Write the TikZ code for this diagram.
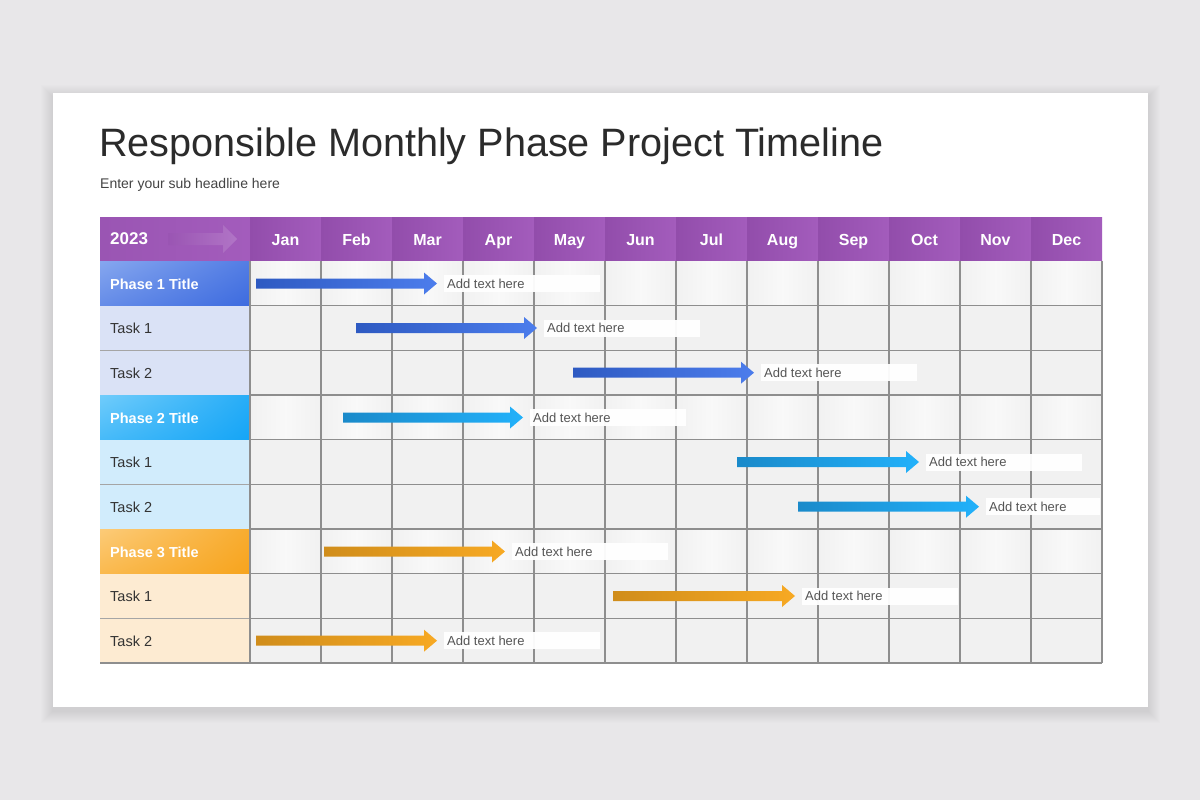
\documentclass[tikz,border=0pt]{standalone}
\usepackage{fontspec}
\setmainfont{Liberation Sans}
\usetikzlibrary{shadings}
\definecolor{bgc}{HTML}{E8E7E9}
\definecolor{titlec}{HTML}{2B2B2B}
\definecolor{subc}{HTML}{444444}
\definecolor{hdA}{HTML}{924DAB}
\definecolor{hdB}{HTML}{A35CBC}
\definecolor{hdC}{HTML}{9A55B3}
\definecolor{gridc}{HTML}{8E8E8E}
\definecolor{cellc}{HTML}{F1F1F1}
\definecolor{pAa}{HTML}{86A7EF}
\definecolor{pAb}{HTML}{3D6BDF}
\definecolor{pAt}{HTML}{DAE2F6}
\definecolor{pBa}{HTML}{70CCFB}
\definecolor{pBb}{HTML}{15A5F6}
\definecolor{pBt}{HTML}{D1ECFC}
\definecolor{pCa}{HTML}{FCCB78}
\definecolor{pCb}{HTML}{F7A41D}
\definecolor{pCt}{HTML}{FDEBD2}
\definecolor{arAa}{HTML}{2E5AC2}
\definecolor{arAb}{HTML}{4C7DEC}
\definecolor{arBa}{HTML}{1A8ACA}
\definecolor{arBb}{HTML}{22B1FA}
\definecolor{arCa}{HTML}{D08D1B}
\definecolor{arCb}{HTML}{F7A923}
\definecolor{lblc}{HTML}{555555}
\definecolor{taskc}{HTML}{333333}
\tikzset{
  lbl/.style={text=lblc, font=\fontsize{13}{15}\selectfont, inner sep=0pt},
  month/.style={text=white, font=\bfseries\fontsize{16}{18}\selectfont, inner sep=0pt, anchor=base},
  phasetxt/.style={text=white, font=\bfseries\fontsize{14.5}{17}\selectfont, anchor=west, inner sep=0pt},
  tasktxt/.style={text=taskc, font=\fontsize{14.5}{17}\selectfont, anchor=west, inner sep=0pt},
  gridline/.style={draw=gridc, line width=1.4pt},
}
\newcommand{\garrow}[5]{%
  \shade[left color=#4,right color=#5] (#2,#1-5) -- (#3-13,#1-5) -- (#3-13,#1-11) -- (#3,#1) -- (#3-13,#1+11) -- (#3-13,#1+5) -- (#2,#1+5) -- cycle;}
\newcommand{\glabel}[3]{%
  \fill[white, opacity=0.95] (#3+7,#2-8.5) rectangle (#3+163,#2+8.5);
  \node[lbl, anchor=west] (#1) at (#3+10,#2) {Add text here};}
\begin{document}
\begin{tikzpicture}[x=1pt,y=-1pt]
\useasboundingbox (0,0) rectangle (1200,800);
\fill[bgc] (0,0) rectangle (1200,800);
% card shadow
\foreach \i in {1,...,12} {
  \fill[black, opacity=0.006] (53-\i,93-\i+4) rectangle (1148+\i,707+\i+4);
}
\fill[white] (53,93) rectangle (1148,707);
% title
\node[anchor=base west, text=titlec, font=\fontsize{39.6}{44}\selectfont, inner sep=0pt] (title) at (99,156) {Responsible Monthly Phase Project Timeline};
\node[anchor=base west, text=subc, font=\fontsize{14}{16}\selectfont, inner sep=0pt] (sub) at (100,188) {Enter your sub headline here};
% header
\shade[left color=hdC, right color=hdB] (100,217) rectangle (250,261);
\shade[left color=hdC, right color=hdB!85!white] (168,233) -- (223,233) -- (223,225) -- (237,239) -- (223,253) -- (223,245) -- (168,245) -- cycle;
\node[anchor=west, text=white, font=\bfseries\fontsize{17}{19}\selectfont, inner sep=0pt] (year) at (110,239) {2023};
\foreach \m [count=\i from 0] in {Jan,Feb,Mar,Apr,May,Jun,Jul,Aug,Sep,Oct,Nov,Dec} {
  \shade[left color=hdA, right color=hdB] (250+71*\i,217) rectangle (321+71*\i,261);
  \node[month] (m\i) at (285.5+71*\i,245.3) {\m};
}
% grid cells
\fill[cellc] (250,261) rectangle (1102,663);
\foreach \r in {0,3,6} {
  \foreach \i in {0,...,11} {
    \shade[left color=cellc, right color=cellc, middle color=white!55!cellc] (250+71*\i,261+44.667*\r) rectangle (321+71*\i,305.667+44.667*\r);
  }
}
% first column
\shade[upper left=pAa, lower right=pAb, upper right=pAb!70!pAa, lower left=pAb!45!pAa] (100,261) rectangle (250,305.667);
\fill[pAt] (100,305.667) rectangle (250,395);
\shade[upper left=pBa, lower right=pBb, upper right=pBb!80!pBa, lower left=pBb!45!pBa] (100,395) rectangle (250,439.667);
\fill[pBt] (100,439.667) rectangle (250,529);
\shade[upper left=pCa, lower right=pCb, upper right=pCb!80!pCa, lower left=pCb!45!pCa] (100,529) rectangle (250,573.667);
\fill[pCt] (100,573.667) rectangle (250,663);
% grid lines
\foreach \r in {1,...,8} {
  \draw[gridline] (250,261+44.667*\r) -- (1102,261+44.667*\r);
}
\foreach \r in {2,5,8} {
  \draw[draw=gridc!80, line width=1.2pt] (100,261+44.667*\r) -- (250,261+44.667*\r);
}
\draw[gridline] (100,663) -- (1102,663);
\foreach \i in {0,...,12} {
  \draw[gridline] (250+71*\i,261) -- (250+71*\i,663);
}
% row labels
\node[phasetxt] (p1) at (110,284) {Phase 1 Title};
\node[tasktxt] (t11) at (110,328.5) {Task 1};
\node[tasktxt] (t12) at (110,373) {Task 2};
\node[phasetxt] (p2) at (110,418) {Phase 2 Title};
\node[tasktxt] (t21) at (110,462.5) {Task 1};
\node[tasktxt] (t22) at (110,507) {Task 2};
\node[phasetxt] (p3) at (110,552) {Phase 3 Title};
\node[tasktxt] (t31) at (110,596.5) {Task 1};
\node[tasktxt] (t32) at (110,641) {Task 2};
% arrows
\garrow{283.5}{256}{437}{arAa}{arAb}
\glabel{l1}{283.5}{437}
\garrow{328}{356}{537}{arAa}{arAb}
\glabel{l2}{328}{537}
\garrow{372.7}{573}{754}{arAa}{arAb}
\glabel{l3}{372.7}{754}
\garrow{417.5}{343}{523}{arBa}{arBb}
\glabel{l4}{417.5}{523}
\garrow{462}{737}{919}{arBa}{arBb}
\glabel{l5}{462}{919}
\garrow{506.7}{798}{979}{arBa}{arBb}
\fill[white, opacity=0.95] (986,498.2) rectangle (1100,515.2);
\node[lbl, anchor=west] (l6) at (989,506.7) {Add text here};
\garrow{551.5}{324}{505}{arCa}{arCb}
\glabel{l7}{551.5}{505}
\garrow{596}{613}{795}{arCa}{arCb}
\glabel{l8}{596}{795}
\garrow{640.7}{256}{437}{arCa}{arCb}
\glabel{l9}{640.7}{437}
\end{tikzpicture}
\end{document}
